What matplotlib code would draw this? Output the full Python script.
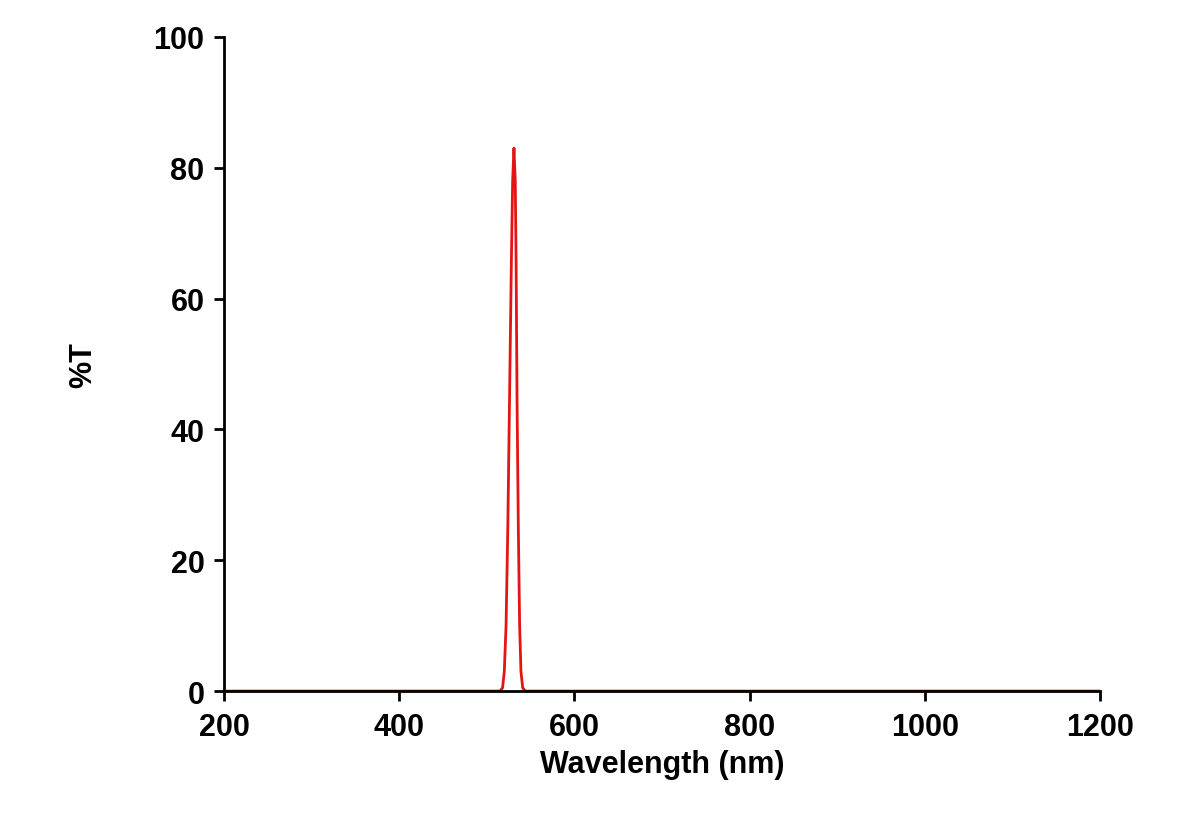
import matplotlib
matplotlib.use("Agg")
import matplotlib.pyplot as plt

# transmission spectrum
wavelength = [200, 515, 518, 520, 522, 524, 526, 528, 529.5, 531, 532.5, 533.5,
              534.5, 536, 537.5, 539, 541, 544, 1200]
transmission = [0, 0, 0.5, 3, 10, 25, 45, 65, 78, 83, 78, 65,
                45, 25, 10, 3, 0.5, 0, 0]

plt.rcParams['font.family'] = ['Liberation Sans', 'DejaVu Sans']
plt.rcParams['font.weight'] = 'bold'
fs = 22

fig = plt.figure(figsize=(11.87, 8.2), dpi=100)
ax = fig.add_axes([0.1887, 0.156, 0.738, 0.7977])
ax.plot(wavelength, transmission, color='#e41414', lw=2)

ax.set_xlim(200, 1200)
ax.set_ylim(0, 100)
ax.set_xticks(range(200, 1201, 200))
ax.set_yticks(range(0, 101, 20))
for s in ['top', 'right']:
    ax.spines[s].set_visible(False)
for s in ['left', 'bottom']:
    ax.spines[s].set_linewidth(2)
ax.tick_params(direction='out', length=7, width=2, labelsize=fs)
ax.tick_params(axis='x', pad=8)
ax.tick_params(axis='y', pad=7)
ax.set_xlabel("Wavelength (nm)", fontsize=fs, fontweight='bold', labelpad=5)
ax.set_ylabel("%T", fontsize=fs, fontweight='bold', labelpad=40)

fig.savefig("out.png", dpi=100, facecolor="w")
